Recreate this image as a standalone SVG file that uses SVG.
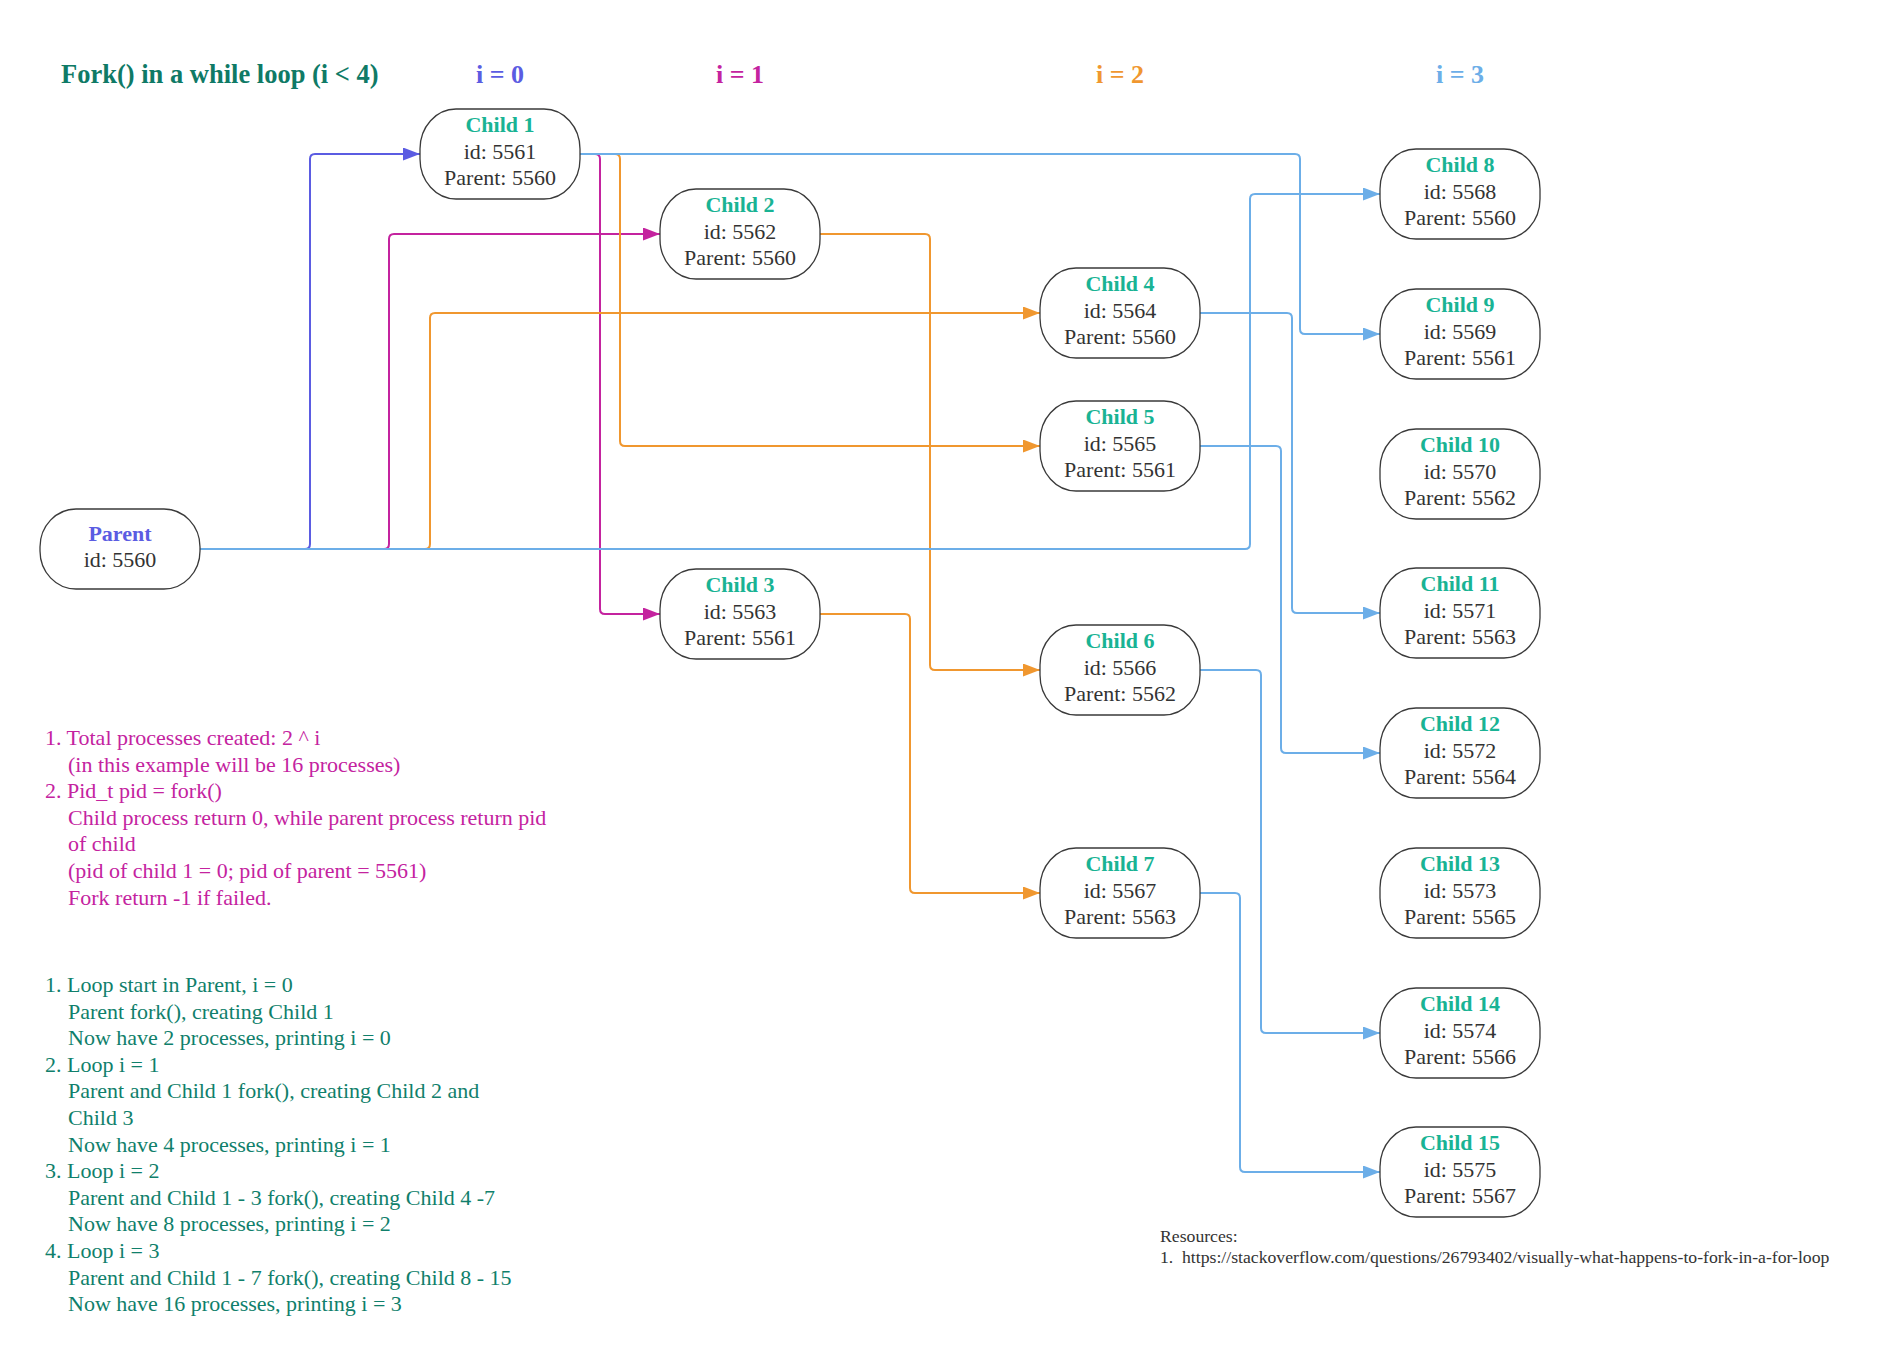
<svg xmlns="http://www.w3.org/2000/svg" width="1900" height="1365" viewBox="0 0 1900 1365">
<style>
text{font-family:"Liberation Serif","Times New Roman",serif;}
.node rect{fill:#ffffff;stroke:#3a3a3a;stroke-width:1.3;}
.t{font-size:22px;font-weight:bold;fill:#19b394;text-anchor:middle;}
.v{font-size:22px;fill:#333333;text-anchor:middle;}
.hd{font-size:26px;font-weight:bold;text-anchor:middle;}
.c{fill:none;stroke-width:2;}
.pu{stroke:#5b5ce2;}
.mg{stroke:#c4239f;}
.or{stroke:#f0972f;}
.bl{stroke:#6caee8;}
.nm{font-size:22px;fill:#c4239f;}
.nt{font-size:22px;fill:#107f6b;}
.rs{font-size:17.7px;fill:#333333;}
</style>
<defs>
<marker id="aPu" markerUnits="userSpaceOnUse" markerWidth="18" markerHeight="13" refX="17" refY="6.5" orient="auto"><path d="M0,0 L17,6.5 L0,13 z" fill="#5b5ce2"/></marker>
<marker id="aMg" markerUnits="userSpaceOnUse" markerWidth="18" markerHeight="13" refX="17" refY="6.5" orient="auto"><path d="M0,0 L17,6.5 L0,13 z" fill="#c4239f"/></marker>
<marker id="aOr" markerUnits="userSpaceOnUse" markerWidth="18" markerHeight="13" refX="17" refY="6.5" orient="auto"><path d="M0,0 L17,6.5 L0,13 z" fill="#f0972f"/></marker>
<marker id="aBl" markerUnits="userSpaceOnUse" markerWidth="18" markerHeight="13" refX="17" refY="6.5" orient="auto"><path d="M0,0 L17,6.5 L0,13 z" fill="#6caee8"/></marker>
</defs>
<rect width="1900" height="1365" fill="#ffffff"/>

<g id="headers">
<text x="61" y="83" style="font-size:26.5px;font-weight:bold;fill:#0f7a66;">Fork() in a while loop (i &lt; 4)</text>
<text class="hd" x="500" y="83" fill="#5b5ce2">i = 0</text>
<text class="hd" x="740" y="83" fill="#c4239f">i = 1</text>
<text class="hd" x="1120" y="83" fill="#f0972f">i = 2</text>
<text class="hd" x="1460" y="83" fill="#6caee8">i = 3</text>
</g>

<g id="connectors">
<path class="c pu" marker-end="url(#aPu)" d="M200,549 H305 Q310,549 310,544 V159 Q310,154 315,154 H420"/>
<path class="c mg" marker-end="url(#aMg)" d="M200,549 H384 Q389,549 389,544 V239 Q389,234 394,234 H660"/>
<path class="c mg" marker-end="url(#aMg)" d="M580,154 H595 Q600,154 600,159 V609 Q600,614 605,614 H660"/>
<path class="c or" marker-end="url(#aOr)" d="M200,549 H425 Q430,549 430,544 V318 Q430,313 435,313 H1040"/>
<path class="c or" marker-end="url(#aOr)" d="M580,154 H615 Q620,154 620,159 V441 Q620,446 625,446 H1040"/>
<path class="c or" marker-end="url(#aOr)" d="M820,234 H925 Q930,234 930,239 V665 Q930,670 935,670 H1040"/>
<path class="c or" marker-end="url(#aOr)" d="M820,614 H905 Q910,614 910,619 V888 Q910,893 915,893 H1040"/>
<path class="c bl" marker-end="url(#aBl)" d="M200,549 H1245 Q1250,549 1250,544 V199 Q1250,194 1255,194 H1380"/>
<path class="c bl" marker-end="url(#aBl)" d="M580,154 H1295 Q1300,154 1300,159 V329 Q1300,334 1305,334 H1380"/>
<path class="c bl" marker-end="url(#aBl)" d="M1200,313 H1287 Q1292,313 1292,318 V608 Q1292,613 1297,613 H1380"/>
<path class="c bl" marker-end="url(#aBl)" d="M1200,446 H1276 Q1281,446 1281,451 V748 Q1281,753 1286,753 H1380"/>
<path class="c bl" marker-end="url(#aBl)" d="M1200,670 H1256 Q1261,670 1261,675 V1028 Q1261,1033 1266,1033 H1380"/>
<path class="c bl" marker-end="url(#aBl)" d="M1200,893 H1235 Q1240,893 1240,898 V1167 Q1240,1172 1245,1172 H1380"/>
</g>

<g id="parent" class="node">
<rect x="40" y="509" width="160" height="80" rx="36" ry="38"/>
<text class="t" x="120" y="541" style="fill:#5b5ce2">Parent</text>
<text class="v" x="120" y="567">id: 5560</text>
</g>

<g id="child1" class="node"><rect x="420" y="109" width="160" height="90" rx="36" ry="40"/>
<text class="t" x="500" y="132">Child 1</text><text class="v" x="500" y="159">id: 5561</text><text class="v" x="500" y="185">Parent: 5560</text></g>
<g id="child2" class="node"><rect x="660" y="189" width="160" height="90" rx="36" ry="40"/>
<text class="t" x="740" y="212">Child 2</text><text class="v" x="740" y="239">id: 5562</text><text class="v" x="740" y="265">Parent: 5560</text></g>
<g id="child3" class="node"><rect x="660" y="569" width="160" height="90" rx="36" ry="40"/>
<text class="t" x="740" y="592">Child 3</text><text class="v" x="740" y="619">id: 5563</text><text class="v" x="740" y="645">Parent: 5561</text></g>
<g id="child4" class="node"><rect x="1040" y="268" width="160" height="90" rx="36" ry="40"/>
<text class="t" x="1120" y="291">Child 4</text><text class="v" x="1120" y="318">id: 5564</text><text class="v" x="1120" y="344">Parent: 5560</text></g>
<g id="child5" class="node"><rect x="1040" y="401" width="160" height="90" rx="36" ry="40"/>
<text class="t" x="1120" y="424">Child 5</text><text class="v" x="1120" y="451">id: 5565</text><text class="v" x="1120" y="477">Parent: 5561</text></g>
<g id="child6" class="node"><rect x="1040" y="625" width="160" height="90" rx="36" ry="40"/>
<text class="t" x="1120" y="648">Child 6</text><text class="v" x="1120" y="675">id: 5566</text><text class="v" x="1120" y="701">Parent: 5562</text></g>
<g id="child7" class="node"><rect x="1040" y="848" width="160" height="90" rx="36" ry="40"/>
<text class="t" x="1120" y="871">Child 7</text><text class="v" x="1120" y="898">id: 5567</text><text class="v" x="1120" y="924">Parent: 5563</text></g>
<g id="child8" class="node"><rect x="1380" y="149" width="160" height="90" rx="36" ry="40"/>
<text class="t" x="1460" y="172">Child 8</text><text class="v" x="1460" y="199">id: 5568</text><text class="v" x="1460" y="225">Parent: 5560</text></g>
<g id="child9" class="node"><rect x="1380" y="289" width="160" height="90" rx="36" ry="40"/>
<text class="t" x="1460" y="312">Child 9</text><text class="v" x="1460" y="339">id: 5569</text><text class="v" x="1460" y="365">Parent: 5561</text></g>
<g id="child10" class="node"><rect x="1380" y="429" width="160" height="90" rx="36" ry="40"/>
<text class="t" x="1460" y="452">Child 10</text><text class="v" x="1460" y="479">id: 5570</text><text class="v" x="1460" y="505">Parent: 5562</text></g>
<g id="child11" class="node"><rect x="1380" y="568" width="160" height="90" rx="36" ry="40"/>
<text class="t" x="1460" y="591">Child 11</text><text class="v" x="1460" y="618">id: 5571</text><text class="v" x="1460" y="644">Parent: 5563</text></g>
<g id="child12" class="node"><rect x="1380" y="708" width="160" height="90" rx="36" ry="40"/>
<text class="t" x="1460" y="731">Child 12</text><text class="v" x="1460" y="758">id: 5572</text><text class="v" x="1460" y="784">Parent: 5564</text></g>
<g id="child13" class="node"><rect x="1380" y="848" width="160" height="90" rx="36" ry="40"/>
<text class="t" x="1460" y="871">Child 13</text><text class="v" x="1460" y="898">id: 5573</text><text class="v" x="1460" y="924">Parent: 5565</text></g>
<g id="child14" class="node"><rect x="1380" y="988" width="160" height="90" rx="36" ry="40"/>
<text class="t" x="1460" y="1011">Child 14</text><text class="v" x="1460" y="1038">id: 5574</text><text class="v" x="1460" y="1064">Parent: 5566</text></g>
<g id="child15" class="node"><rect x="1380" y="1127" width="160" height="90" rx="36" ry="40"/>
<text class="t" x="1460" y="1150">Child 15</text><text class="v" x="1460" y="1177">id: 5575</text><text class="v" x="1460" y="1203">Parent: 5567</text></g>

<g id="notes-magenta">
<text class="nm" x="45" y="745">1. Total processes created: 2 ^ i</text>
<text class="nm" x="68" y="771.6">(in this example will be 16 processes)</text>
<text class="nm" x="45" y="798.2">2. Pid_t pid = fork()</text>
<text class="nm" x="68" y="824.8">Child process return 0, while parent process return pid</text>
<text class="nm" x="68" y="851.4">of child</text>
<text class="nm" x="68" y="878">(pid of child 1 = 0; pid of parent = 5561)</text>
<text class="nm" x="68" y="904.6">Fork return -1 if failed.</text>
</g>

<g id="notes-teal">
<text class="nt" x="45" y="992">1. Loop start in Parent, i = 0</text>
<text class="nt" x="68" y="1018.6">Parent fork(), creating Child 1</text>
<text class="nt" x="68" y="1045.2">Now have 2 processes, printing i = 0</text>
<text class="nt" x="45" y="1071.8">2. Loop i = 1</text>
<text class="nt" x="68" y="1098.4">Parent and Child 1 fork(), creating Child 2 and</text>
<text class="nt" x="68" y="1125">Child 3</text>
<text class="nt" x="68" y="1151.6">Now have 4 processes, printing i = 1</text>
<text class="nt" x="45" y="1178.2">3. Loop i = 2</text>
<text class="nt" x="68" y="1204.8">Parent and Child 1 - 3 fork(), creating Child 4 -7</text>
<text class="nt" x="68" y="1231.4">Now have 8 processes, printing i = 2</text>
<text class="nt" x="45" y="1258">4. Loop i = 3</text>
<text class="nt" x="68" y="1284.6">Parent and Child 1 - 7 fork(), creating Child 8 - 15</text>
<text class="nt" x="68" y="1311.2">Now have 16 processes, printing i = 3</text>
</g>

<g id="resources">
<text class="rs" x="1160" y="1242">Resources:</text>
<text class="rs" x="1160" y="1263">1.</text>
<text class="rs" x="1182" y="1263">https://stackoverflow.com/questions/26793402/visually-what-happens-to-fork-in-a-for-loop</text>
</g>
</svg>
